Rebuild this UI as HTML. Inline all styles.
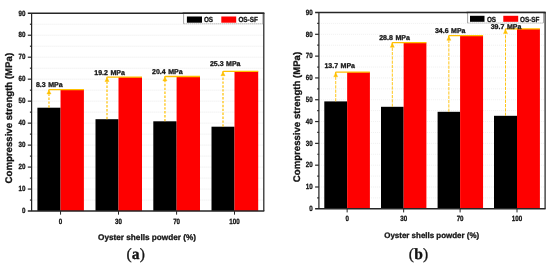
<!DOCTYPE html>
<html><head><meta charset="utf-8"><title>Compressive strength</title>
<style>
html,body{margin:0;padding:0;background:#fff;}
body{width:550px;height:265px;overflow:hidden;}
svg{display:block;font-family:"Liberation Sans",sans-serif;text-rendering:geometricPrecision;}
text{stroke:#141414;stroke-width:0.3px;stroke-linejoin:round;}
</style></head><body>
<svg width="550" height="265" viewBox="0 0 550 265">
<rect width="550" height="265" fill="#fff"/>
<g id="chart-a">
<line x1="31.6" x2="263.8" y1="200.06" y2="200.06" stroke="#e2e2e2" stroke-width="0.7" stroke-dasharray="1 1"/>
<line x1="31.6" x2="263.8" y1="189.07" y2="189.07" stroke="#e2e2e2" stroke-width="0.7" stroke-dasharray="1 1"/>
<line x1="31.6" x2="263.8" y1="178.08" y2="178.08" stroke="#e2e2e2" stroke-width="0.7" stroke-dasharray="1 1"/>
<line x1="31.6" x2="263.8" y1="167.09" y2="167.09" stroke="#e2e2e2" stroke-width="0.7" stroke-dasharray="1 1"/>
<line x1="31.6" x2="263.8" y1="156.11" y2="156.11" stroke="#e2e2e2" stroke-width="0.7" stroke-dasharray="1 1"/>
<line x1="31.6" x2="263.8" y1="145.12" y2="145.12" stroke="#e2e2e2" stroke-width="0.7" stroke-dasharray="1 1"/>
<line x1="31.6" x2="263.8" y1="134.13" y2="134.13" stroke="#e2e2e2" stroke-width="0.7" stroke-dasharray="1 1"/>
<line x1="31.6" x2="263.8" y1="123.14" y2="123.14" stroke="#e2e2e2" stroke-width="0.7" stroke-dasharray="1 1"/>
<line x1="31.6" x2="263.8" y1="112.15" y2="112.15" stroke="#e2e2e2" stroke-width="0.7" stroke-dasharray="1 1"/>
<line x1="31.6" x2="263.8" y1="101.16" y2="101.16" stroke="#e2e2e2" stroke-width="0.7" stroke-dasharray="1 1"/>
<line x1="31.6" x2="263.8" y1="90.17" y2="90.17" stroke="#e2e2e2" stroke-width="0.7" stroke-dasharray="1 1"/>
<line x1="31.6" x2="263.8" y1="79.18" y2="79.18" stroke="#e2e2e2" stroke-width="0.7" stroke-dasharray="1 1"/>
<line x1="31.6" x2="263.8" y1="68.19" y2="68.19" stroke="#e2e2e2" stroke-width="0.7" stroke-dasharray="1 1"/>
<line x1="31.6" x2="263.8" y1="57.21" y2="57.21" stroke="#e2e2e2" stroke-width="0.7" stroke-dasharray="1 1"/>
<line x1="31.6" x2="263.8" y1="46.22" y2="46.22" stroke="#e2e2e2" stroke-width="0.7" stroke-dasharray="1 1"/>
<line x1="31.6" x2="263.8" y1="35.23" y2="35.23" stroke="#e2e2e2" stroke-width="0.7" stroke-dasharray="1 1"/>
<line x1="31.6" x2="263.8" y1="24.24" y2="24.24" stroke="#e2e2e2" stroke-width="0.7" stroke-dasharray="1 1"/>
<rect x="37.4" y="107.7" width="23.15" height="103.35" fill="#000"/>
<rect x="60.55" y="89.6" width="23.35" height="121.45" fill="#fe0000"/>
<line x1="48.97" x2="48.97" y1="107.7" y2="94.20" stroke="#ffc000" stroke-width="1.2" stroke-dasharray="2.4 1.5"/>
<path d="M46.87 94.00 L48.97 90.20 L51.07 94.00 Z" fill="#ffc000" stroke="#ffc000" stroke-width="0.4" stroke-linejoin="round"/>
<path d="M48.82 91.80 L48.82 90.20 Q48.82 89.60 49.57 89.60 L83.9 89.6" fill="none" stroke="#ffc000" stroke-width="1.3"/>
<rect x="95.5" y="119.2" width="23.00" height="91.85" fill="#000"/>
<rect x="118.5" y="77.1" width="23.50" height="133.95" fill="#fe0000"/>
<line x1="107.00" x2="107.00" y1="119.2" y2="81.70" stroke="#ffc000" stroke-width="1.2" stroke-dasharray="2.4 1.5"/>
<path d="M104.90 81.50 L107.00 77.70 L109.10 81.50 Z" fill="#ffc000" stroke="#ffc000" stroke-width="0.4" stroke-linejoin="round"/>
<path d="M106.85 79.30 L106.85 77.70 Q106.85 77.10 107.60 77.10 L142 77.1" fill="none" stroke="#ffc000" stroke-width="1.3"/>
<rect x="153.3" y="121.3" width="23.30" height="89.75" fill="#000"/>
<rect x="176.6" y="76.5" width="23.40" height="134.55" fill="#fe0000"/>
<line x1="164.95" x2="164.95" y1="121.3" y2="81.10" stroke="#ffc000" stroke-width="1.2" stroke-dasharray="2.4 1.5"/>
<path d="M162.85 80.90 L164.95 77.10 L167.05 80.90 Z" fill="#ffc000" stroke="#ffc000" stroke-width="0.4" stroke-linejoin="round"/>
<path d="M164.80 78.70 L164.80 77.10 Q164.80 76.50 165.55 76.50 L200 76.5" fill="none" stroke="#ffc000" stroke-width="1.3"/>
<rect x="211.5" y="126.7" width="23.00" height="84.35" fill="#000"/>
<rect x="234.5" y="71.3" width="23.70" height="139.75" fill="#fe0000"/>
<line x1="223.00" x2="223.00" y1="126.7" y2="75.90" stroke="#ffc000" stroke-width="1.2" stroke-dasharray="2.4 1.5"/>
<path d="M220.90 75.70 L223.00 71.90 L225.10 75.70 Z" fill="#ffc000" stroke="#ffc000" stroke-width="0.4" stroke-linejoin="round"/>
<path d="M222.85 73.50 L222.85 71.90 Q222.85 71.30 223.60 71.30 L258.2 71.3" fill="none" stroke="#ffc000" stroke-width="1.3"/>
<line x1="27.8" x2="264.3" y1="13.25" y2="13.25" stroke="#262626" stroke-width="1.45"/>
<line x1="27.8" x2="264.3" y1="211.05" y2="211.05" stroke="#262626" stroke-width="1.45"/>
<line x1="31.6" x2="31.6" y1="13.25" y2="211.05" stroke="#262626" stroke-width="1.25"/>
<line x1="263.8" x2="263.8" y1="13.25" y2="211.05" stroke="#262626" stroke-width="1.25"/>
<line x1="29.900000000000002" x2="31.6" y1="200.06" y2="200.06" stroke="#262626" stroke-width="1.2"/>
<line x1="27.8" x2="31.6" y1="189.07" y2="189.07" stroke="#262626" stroke-width="1.2"/>
<line x1="29.900000000000002" x2="31.6" y1="178.08" y2="178.08" stroke="#262626" stroke-width="1.2"/>
<line x1="27.8" x2="31.6" y1="167.09" y2="167.09" stroke="#262626" stroke-width="1.2"/>
<line x1="29.900000000000002" x2="31.6" y1="156.11" y2="156.11" stroke="#262626" stroke-width="1.2"/>
<line x1="27.8" x2="31.6" y1="145.12" y2="145.12" stroke="#262626" stroke-width="1.2"/>
<line x1="29.900000000000002" x2="31.6" y1="134.13" y2="134.13" stroke="#262626" stroke-width="1.2"/>
<line x1="27.8" x2="31.6" y1="123.14" y2="123.14" stroke="#262626" stroke-width="1.2"/>
<line x1="29.900000000000002" x2="31.6" y1="112.15" y2="112.15" stroke="#262626" stroke-width="1.2"/>
<line x1="27.8" x2="31.6" y1="101.16" y2="101.16" stroke="#262626" stroke-width="1.2"/>
<line x1="29.900000000000002" x2="31.6" y1="90.17" y2="90.17" stroke="#262626" stroke-width="1.2"/>
<line x1="27.8" x2="31.6" y1="79.18" y2="79.18" stroke="#262626" stroke-width="1.2"/>
<line x1="29.900000000000002" x2="31.6" y1="68.19" y2="68.19" stroke="#262626" stroke-width="1.2"/>
<line x1="27.8" x2="31.6" y1="57.21" y2="57.21" stroke="#262626" stroke-width="1.2"/>
<line x1="29.900000000000002" x2="31.6" y1="46.22" y2="46.22" stroke="#262626" stroke-width="1.2"/>
<line x1="27.8" x2="31.6" y1="35.23" y2="35.23" stroke="#262626" stroke-width="1.2"/>
<line x1="29.900000000000002" x2="31.6" y1="24.24" y2="24.24" stroke="#262626" stroke-width="1.2"/>
<text transform="translate(25.400000000000002 213.30) scale(0.82 1)" font-size="7.6" font-weight="bold" text-anchor="end" fill="#141414">0</text>
<text transform="translate(25.400000000000002 191.32) scale(0.82 1)" font-size="7.6" font-weight="bold" text-anchor="end" fill="#141414">10</text>
<text transform="translate(25.400000000000002 169.34) scale(0.82 1)" font-size="7.6" font-weight="bold" text-anchor="end" fill="#141414">20</text>
<text transform="translate(25.400000000000002 147.37) scale(0.82 1)" font-size="7.6" font-weight="bold" text-anchor="end" fill="#141414">30</text>
<text transform="translate(25.400000000000002 125.39) scale(0.82 1)" font-size="7.6" font-weight="bold" text-anchor="end" fill="#141414">40</text>
<text transform="translate(25.400000000000002 103.41) scale(0.82 1)" font-size="7.6" font-weight="bold" text-anchor="end" fill="#141414">50</text>
<text transform="translate(25.400000000000002 81.43) scale(0.82 1)" font-size="7.6" font-weight="bold" text-anchor="end" fill="#141414">60</text>
<text transform="translate(25.400000000000002 59.46) scale(0.82 1)" font-size="7.6" font-weight="bold" text-anchor="end" fill="#141414">70</text>
<text transform="translate(25.400000000000002 37.48) scale(0.82 1)" font-size="7.6" font-weight="bold" text-anchor="end" fill="#141414">80</text>
<text transform="translate(25.400000000000002 15.50) scale(0.82 1)" font-size="7.6" font-weight="bold" text-anchor="end" fill="#141414">90</text>
<line x1="60.55" x2="60.55" y1="211.05" y2="214.65" stroke="#262626" stroke-width="1"/>
<text transform="translate(60.55 223.8) scale(0.82 1)" font-size="7.6" font-weight="bold" text-anchor="middle" fill="#141414">0</text>
<line x1="118.5" x2="118.5" y1="211.05" y2="214.65" stroke="#262626" stroke-width="1"/>
<text transform="translate(118.5 223.8) scale(0.82 1)" font-size="7.6" font-weight="bold" text-anchor="middle" fill="#141414">30</text>
<line x1="176.6" x2="176.6" y1="211.05" y2="214.65" stroke="#262626" stroke-width="1"/>
<text transform="translate(176.6 223.8) scale(0.82 1)" font-size="7.6" font-weight="bold" text-anchor="middle" fill="#141414">70</text>
<line x1="234.5" x2="234.5" y1="211.05" y2="214.65" stroke="#262626" stroke-width="1"/>
<text transform="translate(234.5 223.8) scale(0.82 1)" font-size="7.6" font-weight="bold" text-anchor="middle" fill="#141414">100</text>
<rect x="183.6" y="13.25" width="79.30" height="10.50" fill="#fff"/>
<path d="M183.6 13.25 V23.75 M262.9 13.25 V23.75" fill="none" stroke="#8c8c8c" stroke-width="0.8"/>
<line x1="183.6" x2="262.9" y1="23.75" y2="23.75" stroke="#9c9c9c" stroke-width="0.8" stroke-dasharray="1.2 0.8"/>
<line x1="182.6" x2="264.3" y1="13.25" y2="13.25" stroke="#262626" stroke-width="1.45"/>
<rect x="186.9" y="16.5" width="15.10" height="6.20" fill="#000"/>
<text transform="translate(203.9 22.3) scale(0.86 1)" font-size="7.4" font-weight="bold" fill="#141414">OS</text>
<rect x="221.3" y="16.5" width="14.90" height="6.20" fill="#fe0000"/>
<text transform="translate(238.4 22.3) scale(0.86 1)" font-size="7.4" font-weight="bold" fill="#141414">OS-SF</text>
<text x="49.25" y="87.1" font-size="7" font-weight="bold" text-anchor="middle" word-spacing="0.6" fill="#141414" stroke-width="0.12">8.3 MPa</text>
<text x="109.6" y="74.9" font-size="7" font-weight="bold" text-anchor="middle" word-spacing="0.6" fill="#141414" stroke-width="0.12">19.2 MPa</text>
<text x="167.35" y="74.1" font-size="7" font-weight="bold" text-anchor="middle" word-spacing="0.6" fill="#141414" stroke-width="0.12">20.4 MPa</text>
<text x="225.2" y="66.4" font-size="7" font-weight="bold" text-anchor="middle" word-spacing="0.6" fill="#141414" stroke-width="0.12">25.3 MPa</text>
<text x="147" y="239.5" font-size="8.2" font-weight="bold" text-anchor="middle" fill="#141414">Oyster shells powder (%)</text>
<text transform="translate(12.1 118.15) rotate(-90) scale(1 1)" font-size="9.64" font-weight="bold" text-anchor="middle" fill="#141414">Compressive strength (MPa)</text>
<text x="135.8" y="259" font-family="'Liberation Serif', serif" font-size="15.5" text-anchor="middle" fill="#141414" stroke-width="0.05" letter-spacing="0.25">(<tspan font-weight="bold" stroke-width="0.35">a</tspan>)</text>
</g>
<g id="chart-b">
<line x1="318.9" x2="545.1" y1="197.89" y2="197.89" stroke="#e9e9e9" stroke-width="0.7" stroke-dasharray="1 1"/>
<line x1="318.9" x2="545.1" y1="186.99" y2="186.99" stroke="#e9e9e9" stroke-width="0.7" stroke-dasharray="1 1"/>
<line x1="318.9" x2="545.1" y1="176.08" y2="176.08" stroke="#e9e9e9" stroke-width="0.7" stroke-dasharray="1 1"/>
<line x1="318.9" x2="545.1" y1="165.18" y2="165.18" stroke="#e9e9e9" stroke-width="0.7" stroke-dasharray="1 1"/>
<line x1="318.9" x2="545.1" y1="154.27" y2="154.27" stroke="#e9e9e9" stroke-width="0.7" stroke-dasharray="1 1"/>
<line x1="318.9" x2="545.1" y1="143.37" y2="143.37" stroke="#e9e9e9" stroke-width="0.7" stroke-dasharray="1 1"/>
<line x1="318.9" x2="545.1" y1="132.46" y2="132.46" stroke="#e9e9e9" stroke-width="0.7" stroke-dasharray="1 1"/>
<line x1="318.9" x2="545.1" y1="121.56" y2="121.56" stroke="#e9e9e9" stroke-width="0.7" stroke-dasharray="1 1"/>
<line x1="318.9" x2="545.1" y1="110.65" y2="110.65" stroke="#e9e9e9" stroke-width="0.7" stroke-dasharray="1 1"/>
<line x1="318.9" x2="545.1" y1="99.74" y2="99.74" stroke="#e9e9e9" stroke-width="0.7" stroke-dasharray="1 1"/>
<line x1="318.9" x2="545.1" y1="88.84" y2="88.84" stroke="#e9e9e9" stroke-width="0.7" stroke-dasharray="1 1"/>
<line x1="318.9" x2="545.1" y1="77.93" y2="77.93" stroke="#e9e9e9" stroke-width="0.7" stroke-dasharray="1 1"/>
<line x1="318.9" x2="545.1" y1="67.03" y2="67.03" stroke="#e9e9e9" stroke-width="0.7" stroke-dasharray="1 1"/>
<line x1="318.9" x2="545.1" y1="56.12" y2="56.12" stroke="#e9e9e9" stroke-width="0.7" stroke-dasharray="1 1"/>
<line x1="318.9" x2="545.1" y1="45.22" y2="45.22" stroke="#e9e9e9" stroke-width="0.7" stroke-dasharray="1 1"/>
<line x1="318.9" x2="545.1" y1="34.31" y2="34.31" stroke="#e9e9e9" stroke-width="0.7" stroke-dasharray="1 1"/>
<line x1="318.9" x2="545.1" y1="23.41" y2="23.41" stroke="#e9e9e9" stroke-width="0.7" stroke-dasharray="1 1"/>
<rect x="324.3" y="101.4" width="22.85" height="107.40" fill="#000"/>
<rect x="347.15" y="72.1" width="22.75" height="136.70" fill="#fe0000"/>
<line x1="335.73" x2="335.73" y1="101.4" y2="76.70" stroke="#ffc000" stroke-width="0.9" stroke-dasharray="3.2 1.1"/>
<path d="M333.73 76.70 L335.73 72.70 L337.73 76.70 Z" fill="#ffc000" stroke="#ffc000" stroke-width="0.4" stroke-linejoin="round"/>
<path d="M335.58 74.30 L335.58 72.70 Q335.58 72.10 336.33 72.10 L369.9 72.1" fill="none" stroke="#ffc000" stroke-width="1.3"/>
<rect x="381" y="106.8" width="22.65" height="102.00" fill="#000"/>
<rect x="403.65" y="42.7" width="22.75" height="166.10" fill="#fe0000"/>
<line x1="392.32" x2="392.32" y1="106.8" y2="47.30" stroke="#ffc000" stroke-width="0.9" stroke-dasharray="3.2 1.1"/>
<path d="M390.32 47.30 L392.32 43.30 L394.32 47.30 Z" fill="#ffc000" stroke="#ffc000" stroke-width="0.4" stroke-linejoin="round"/>
<path d="M392.18 44.90 L392.18 43.30 Q392.18 42.70 392.93 42.70 L426.4 42.7" fill="none" stroke="#ffc000" stroke-width="1.3"/>
<rect x="437.6" y="111.8" width="22.50" height="97.00" fill="#000"/>
<rect x="460.1" y="35.7" width="22.95" height="173.10" fill="#fe0000"/>
<line x1="448.85" x2="448.85" y1="111.8" y2="40.30" stroke="#ffc000" stroke-width="0.9" stroke-dasharray="3.2 1.1"/>
<path d="M446.85 40.30 L448.85 36.30 L450.85 40.30 Z" fill="#ffc000" stroke="#ffc000" stroke-width="0.4" stroke-linejoin="round"/>
<path d="M448.70 37.90 L448.70 36.30 Q448.70 35.70 449.45 35.70 L483.05 35.7" fill="none" stroke="#ffc000" stroke-width="1.3"/>
<rect x="494" y="115.8" width="23.00" height="93.00" fill="#000"/>
<rect x="517.0" y="28.95" width="22.90" height="179.85" fill="#fe0000"/>
<line x1="505.50" x2="505.50" y1="115.8" y2="33.55" stroke="#ffc000" stroke-width="0.9" stroke-dasharray="3.2 1.1"/>
<path d="M503.50 33.55 L505.50 29.55 L507.50 33.55 Z" fill="#ffc000" stroke="#ffc000" stroke-width="0.4" stroke-linejoin="round"/>
<path d="M505.35 31.15 L505.35 29.55 Q505.35 28.95 506.10 28.95 L539.9 28.95" fill="none" stroke="#ffc000" stroke-width="1.3"/>
<line x1="315.09999999999997" x2="545.6" y1="12.5" y2="12.5" stroke="#262626" stroke-width="1.45"/>
<line x1="315.09999999999997" x2="545.6" y1="208.8" y2="208.8" stroke="#262626" stroke-width="1.45"/>
<line x1="318.9" x2="318.9" y1="12.5" y2="208.8" stroke="#262626" stroke-width="1.25"/>
<line x1="545.1" x2="545.1" y1="12.5" y2="208.8" stroke="#262626" stroke-width="1.25"/>
<line x1="317.2" x2="318.9" y1="197.89" y2="197.89" stroke="#262626" stroke-width="1.2"/>
<line x1="315.09999999999997" x2="318.9" y1="186.99" y2="186.99" stroke="#262626" stroke-width="1.2"/>
<line x1="317.2" x2="318.9" y1="176.08" y2="176.08" stroke="#262626" stroke-width="1.2"/>
<line x1="315.09999999999997" x2="318.9" y1="165.18" y2="165.18" stroke="#262626" stroke-width="1.2"/>
<line x1="317.2" x2="318.9" y1="154.27" y2="154.27" stroke="#262626" stroke-width="1.2"/>
<line x1="315.09999999999997" x2="318.9" y1="143.37" y2="143.37" stroke="#262626" stroke-width="1.2"/>
<line x1="317.2" x2="318.9" y1="132.46" y2="132.46" stroke="#262626" stroke-width="1.2"/>
<line x1="315.09999999999997" x2="318.9" y1="121.56" y2="121.56" stroke="#262626" stroke-width="1.2"/>
<line x1="317.2" x2="318.9" y1="110.65" y2="110.65" stroke="#262626" stroke-width="1.2"/>
<line x1="315.09999999999997" x2="318.9" y1="99.74" y2="99.74" stroke="#262626" stroke-width="1.2"/>
<line x1="317.2" x2="318.9" y1="88.84" y2="88.84" stroke="#262626" stroke-width="1.2"/>
<line x1="315.09999999999997" x2="318.9" y1="77.93" y2="77.93" stroke="#262626" stroke-width="1.2"/>
<line x1="317.2" x2="318.9" y1="67.03" y2="67.03" stroke="#262626" stroke-width="1.2"/>
<line x1="315.09999999999997" x2="318.9" y1="56.12" y2="56.12" stroke="#262626" stroke-width="1.2"/>
<line x1="317.2" x2="318.9" y1="45.22" y2="45.22" stroke="#262626" stroke-width="1.2"/>
<line x1="315.09999999999997" x2="318.9" y1="34.31" y2="34.31" stroke="#262626" stroke-width="1.2"/>
<line x1="317.2" x2="318.9" y1="23.41" y2="23.41" stroke="#262626" stroke-width="1.2"/>
<text transform="translate(312.7 211.05) scale(0.82 1)" font-size="7.6" font-weight="bold" text-anchor="end" fill="#141414">0</text>
<text transform="translate(312.7 189.24) scale(0.82 1)" font-size="7.6" font-weight="bold" text-anchor="end" fill="#141414">10</text>
<text transform="translate(312.7 167.43) scale(0.82 1)" font-size="7.6" font-weight="bold" text-anchor="end" fill="#141414">20</text>
<text transform="translate(312.7 145.62) scale(0.82 1)" font-size="7.6" font-weight="bold" text-anchor="end" fill="#141414">30</text>
<text transform="translate(312.7 123.81) scale(0.82 1)" font-size="7.6" font-weight="bold" text-anchor="end" fill="#141414">40</text>
<text transform="translate(312.7 101.99) scale(0.82 1)" font-size="7.6" font-weight="bold" text-anchor="end" fill="#141414">50</text>
<text transform="translate(312.7 80.18) scale(0.82 1)" font-size="7.6" font-weight="bold" text-anchor="end" fill="#141414">60</text>
<text transform="translate(312.7 58.37) scale(0.82 1)" font-size="7.6" font-weight="bold" text-anchor="end" fill="#141414">70</text>
<text transform="translate(312.7 36.56) scale(0.82 1)" font-size="7.6" font-weight="bold" text-anchor="end" fill="#141414">80</text>
<text transform="translate(312.7 14.75) scale(0.82 1)" font-size="7.6" font-weight="bold" text-anchor="end" fill="#141414">90</text>
<line x1="347.15" x2="347.15" y1="208.8" y2="212.4" stroke="#262626" stroke-width="1"/>
<text transform="translate(347.15 221.3) scale(0.82 1)" font-size="7.6" font-weight="bold" text-anchor="middle" fill="#141414">0</text>
<line x1="403.65" x2="403.65" y1="208.8" y2="212.4" stroke="#262626" stroke-width="1"/>
<text transform="translate(403.65 221.3) scale(0.82 1)" font-size="7.6" font-weight="bold" text-anchor="middle" fill="#141414">30</text>
<line x1="460.1" x2="460.1" y1="208.8" y2="212.4" stroke="#262626" stroke-width="1"/>
<text transform="translate(460.1 221.3) scale(0.82 1)" font-size="7.6" font-weight="bold" text-anchor="middle" fill="#141414">70</text>
<line x1="517.0" x2="517.0" y1="208.8" y2="212.4" stroke="#262626" stroke-width="1"/>
<text transform="translate(517.0 221.3) scale(0.82 1)" font-size="7.6" font-weight="bold" text-anchor="middle" fill="#141414">100</text>
<rect x="467.6" y="12.5" width="76.00" height="10.50" fill="#fff"/>
<path d="M467.6 12.5 V23.0 M543.6 12.5 V23.0" fill="none" stroke="#8c8c8c" stroke-width="0.8"/>
<line x1="467.6" x2="543.6" y1="23.0" y2="23.0" stroke="#9c9c9c" stroke-width="0.8" stroke-dasharray="1.2 0.8"/>
<line x1="466.6" x2="545.6" y1="12.5" y2="12.5" stroke="#262626" stroke-width="1.45"/>
<rect x="470" y="15.8" width="14.50" height="6.00" fill="#000"/>
<text transform="translate(486.9 21.6) scale(0.86 1)" font-size="7.4" font-weight="bold" fill="#141414">OS</text>
<rect x="503.3" y="15.8" width="14.90" height="6.00" fill="#fe0000"/>
<text transform="translate(520 21.6) scale(0.86 1)" font-size="7.4" font-weight="bold" fill="#141414">OS-SF</text>
<text x="339.7" y="68.4" font-size="7" font-weight="bold" text-anchor="middle" word-spacing="0.6" fill="#141414" stroke-width="0.12">13.7 MPa</text>
<text x="394.5" y="40.4" font-size="7" font-weight="bold" text-anchor="middle" word-spacing="0.6" fill="#141414" stroke-width="0.12">28.8 MPa</text>
<text x="450.2" y="33.3" font-size="7" font-weight="bold" text-anchor="middle" word-spacing="0.6" fill="#141414" stroke-width="0.12">34.6 MPa</text>
<text x="506.0" y="28.6" font-size="7" font-weight="bold" text-anchor="middle" word-spacing="0.6" fill="#141414" stroke-width="0.12">39.7 MPa</text>
<text x="431.7" y="237.7" font-size="7.95" font-weight="bold" text-anchor="middle" fill="#141414">Oyster shells powder (%)</text>
<text transform="translate(299.5 117) rotate(-90) scale(1 1)" font-size="9.62" font-weight="bold" text-anchor="middle" fill="#141414">Compressive strength (MPa)</text>
<text x="418.6" y="259" font-family="'Liberation Serif', serif" font-size="15.5" text-anchor="middle" fill="#141414" stroke-width="0.05" letter-spacing="0.25">(<tspan font-weight="bold" stroke-width="0.35">b</tspan>)</text>
</g>
</svg>
</body></html>
